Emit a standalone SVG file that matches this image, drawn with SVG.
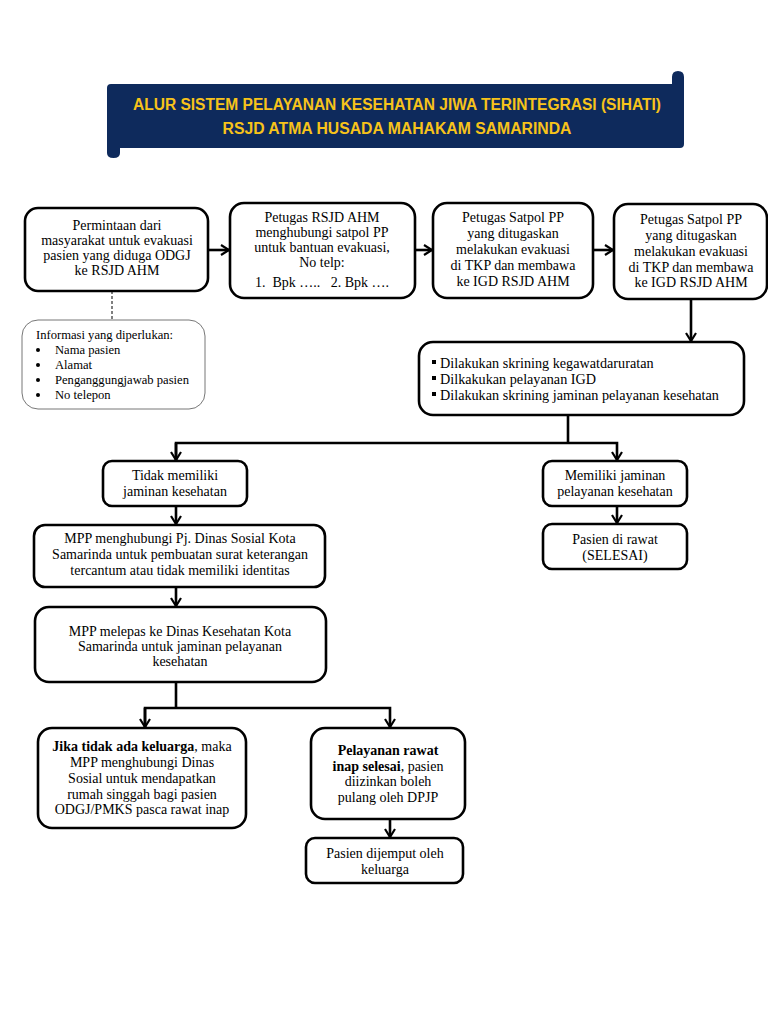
<svg xmlns="http://www.w3.org/2000/svg" width="768" height="1024" viewBox="0 0 768 1024">
<defs>
<marker id="arr" viewBox="0 0 12 12" refX="10" refY="6" markerWidth="12" markerHeight="12" markerUnits="userSpaceOnUse" orient="auto">
<path d="M2,1 L10,6 L2,11" fill="none" stroke="#000" stroke-width="2.2"/>
</marker>
</defs>
<style>
.box{fill:#fff;stroke:#000;stroke-width:2.6}
.info{fill:#fff;stroke:#777;stroke-width:1}
.t{font-family:"Liberation Serif","Times New Roman",serif;font-size:14px;fill:#000;text-anchor:middle}
.tl{font-family:"Liberation Serif","Times New Roman",serif;font-size:14.2px;fill:#000}
.ts{font-family:"Liberation Serif","Times New Roman",serif;font-size:12.6px;fill:#000}
.c{fill:none;stroke:#000;stroke-width:2.6}
.title{font-family:"Liberation Sans",Arial,sans-serif;font-weight:bold;font-size:16px;fill:#f7c31a;text-anchor:middle}
</style>
<rect width="768" height="1024" fill="#fff"/>
<g id="title">
<path d="M107,88 Q107,84 111,84 L672,84 L672,77 Q672,71 678,71 Q684,71 684,77 L684,144 Q684,148 680,148 L120,148 L120,153 Q120,158 113.5,158 Q107,158 107,153 Z" fill="#0e2a5c"/>
<text class="title" x="397" y="110" textLength="528" lengthAdjust="spacingAndGlyphs">ALUR SISTEM PELAYANAN KESEHATAN JIWA TERINTEGRASI (SIHATI)</text>
<text class="title" x="397" y="134" textLength="349" lengthAdjust="spacingAndGlyphs">RSJD ATMA HUSADA MAHAKAM SAMARINDA</text>
</g>
<g id="connectors">
<line class="c" x1="208" y1="250" x2="229" y2="250" marker-end="url(#arr)"/>
<line class="c" x1="415" y1="250" x2="432" y2="250" marker-end="url(#arr)"/>
<line class="c" x1="593" y1="250" x2="613" y2="250" marker-end="url(#arr)"/>
<line x1="112" y1="291" x2="112" y2="320" stroke="#000" stroke-width="1" stroke-dasharray="3,2"/>
<line class="c" x1="691" y1="298" x2="691" y2="341" marker-end="url(#arr)"/>
<line class="c" x1="568" y1="415" x2="568" y2="443"/>
<polyline class="c" points="176,460 176,443 617,443 617,460" marker-end="url(#arr)"/>
<line class="c" x1="176" y1="443" x2="176" y2="460" marker-end="url(#arr)"/>
<line class="c" x1="176" y1="506" x2="176" y2="524" marker-end="url(#arr)"/>
<line class="c" x1="617" y1="506" x2="617" y2="523" marker-end="url(#arr)"/>
<line class="c" x1="176" y1="587" x2="176" y2="606" marker-end="url(#arr)"/>
<line class="c" x1="176" y1="682" x2="176" y2="708"/>
<polyline class="c" points="145,727 145,708 390,708 390,727" marker-end="url(#arr)"/>
<line class="c" x1="145" y1="708" x2="145" y2="727" marker-end="url(#arr)"/>
<line class="c" x1="390" y1="819" x2="390" y2="837" marker-end="url(#arr)"/>
</g>
<g id="n1">
<rect class="box" x="25" y="208" width="183" height="83" rx="13"/>
<text class="t" x="117" y="230">Permintaan dari</text>
<text class="t" x="117" y="245">masyarakat untuk evakuasi</text>
<text class="t" x="117" y="260">pasien yang diduga ODGJ</text>
<text class="t" x="117" y="275">ke RSJD AHM</text>
</g>
<g id="n2">
<rect class="box" x="230" y="203" width="185" height="95" rx="14"/>
<text class="t" x="322" y="222">Petugas RSJD AHM</text>
<text class="t" x="322" y="237">menghubungi satpol PP</text>
<text class="t" x="322" y="252">untuk bantuan evakuasi,</text>
<text class="t" x="322" y="267">No telp:</text>
<text class="t" x="322" y="287" xml:space="preserve">1.  Bpk …..   2. Bpk ….</text>
</g>
<g id="n3">
<rect class="box" x="433" y="203" width="160" height="95" rx="14"/>
<text class="t" x="513" y="222">Petugas Satpol PP</text>
<text class="t" x="513" y="238">yang ditugaskan</text>
<text class="t" x="513" y="254">melakukan evakuasi</text>
<text class="t" x="513" y="270">di TKP dan membawa</text>
<text class="t" x="513" y="286">ke IGD RSJD AHM</text>
</g>
<g id="n4">
<rect class="box" x="614" y="204" width="153" height="95" rx="14"/>
<text class="t" x="691" y="224">Petugas Satpol PP</text>
<text class="t" x="691" y="240">yang ditugaskan</text>
<text class="t" x="691" y="256">melakukan evakuasi</text>
<text class="t" x="691" y="272">di TKP dan membawa</text>
<text class="t" x="691" y="287">ke IGD RSJD AHM</text>
</g>
<g id="info">
<rect class="info" x="22" y="320" width="183" height="89" rx="16"/>
<text class="ts" x="36" y="339">Informasi yang diperlukan:</text>
<circle cx="38" cy="350" r="2"/><text class="ts" x="55" y="354">Nama pasien</text>
<circle cx="38" cy="365" r="2"/><text class="ts" x="55" y="369">Alamat</text>
<circle cx="38" cy="380" r="2"/><text class="ts" x="55" y="384">Penganggungjawab pasien</text>
<circle cx="38" cy="395" r="2"/><text class="ts" x="55" y="399">No telepon</text>
</g>
<g id="n5">
<rect class="box" x="419" y="342" width="325" height="73" rx="14"/>
<rect x="432" y="360" width="4" height="4"/><text class="tl" x="440" y="368">Dilakukan skrining kegawatdaruratan</text>
<rect x="432" y="376" width="4" height="4"/><text class="tl" x="440" y="384">Dilkakukan pelayanan IGD</text>
<rect x="432" y="392" width="4" height="4"/><text class="tl" x="440" y="400">Dilakukan skrining jaminan pelayanan kesehatan</text>
</g>
<g id="n6">
<rect class="box" x="103" y="461" width="144" height="45" rx="9"/>
<text class="t" x="175" y="480">Tidak memiliki</text>
<text class="t" x="175" y="496">jaminan kesehatan</text>
</g>
<g id="n7">
<rect class="box" x="543" y="461" width="144" height="45" rx="9"/>
<text class="t" x="615" y="480">Memiliki jaminan</text>
<text class="t" x="615" y="496">pelayanan kesehatan</text>
</g>
<g id="n8">
<rect class="box" x="34" y="525" width="291" height="62" rx="11"/>
<text class="t" x="180" y="543">MPP menghubungi Pj. Dinas Sosial Kota</text>
<text class="t" x="180" y="559">Samarinda untuk pembuatan surat keterangan</text>
<text class="t" x="180" y="575">tercantum atau tidak memiliki identitas</text>
</g>
<g id="n9">
<rect class="box" x="543" y="524" width="144" height="45" rx="9"/>
<text class="t" x="615" y="544">Pasien di rawat</text>
<text class="t" x="615" y="560">(SELESAI)</text>
</g>
<g id="n10">
<rect class="box" x="35" y="607" width="291" height="75" rx="14"/>
<text class="t" x="180" y="636">MPP melepas ke Dinas Kesehatan Kota</text>
<text class="t" x="180" y="651">Samarinda untuk jaminan pelayanan</text>
<text class="t" x="180" y="666">kesehatan</text>
</g>
<g id="n11">
<rect class="box" x="38" y="728" width="208" height="100" rx="14"/>
<text class="t" x="142" y="751"><tspan font-weight="bold">Jika tidak ada keluarga</tspan>, maka</text>
<text class="t" x="142" y="767">MPP menghubungi Dinas</text>
<text class="t" x="142" y="783">Sosial untuk mendapatkan</text>
<text class="t" x="142" y="799">rumah singgah bagi pasien</text>
<text class="t" x="142" y="814">ODGJ/PMKS pasca rawat inap</text>
</g>
<g id="n12">
<rect class="box" x="311" y="728" width="154" height="91" rx="14"/>
<text class="t" x="388" y="755" font-weight="bold">Pelayanan rawat</text>
<text class="t" x="388" y="771"><tspan font-weight="bold">inap selesai</tspan>, pasien</text>
<text class="t" x="388" y="786">diizinkan boleh</text>
<text class="t" x="388" y="802">pulang oleh DPJP</text>
</g>
<g id="n13">
<rect class="box" x="306" y="838" width="157" height="45" rx="9"/>
<text class="t" x="385" y="858">Pasien dijemput oleh</text>
<text class="t" x="385" y="874">keluarga</text>
</g>
</svg>
